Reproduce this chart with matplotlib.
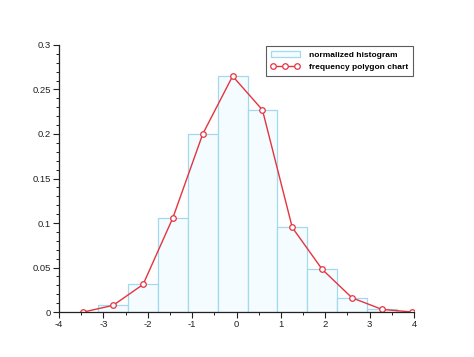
import matplotlib
matplotlib.use("Agg")
import matplotlib.pyplot as plt
from matplotlib.ticker import MultipleLocator, FuncFormatter

plt.rcParams["font.family"] = ["Liberation Sans", "DejaVu Sans"]
plt.rcParams["axes.unicode_minus"] = False

# histogram bins (left edges) and normalized heights
BIN_WIDTH = 0.6724
bin_left = [-3.114, -2.442, -1.769, -1.097, -0.424, 0.248, 0.920, 1.593, 2.265, 2.938]
hist_vals = [0.0075, 0.031, 0.106, 0.200, 0.265, 0.227, 0.095, 0.048, 0.016, 0.003]

# frequency polygon: bin centres plus a zero point on each side
poly_x = [-3.45, -2.78, -2.105, -1.433, -0.761, -0.088, 0.584, 1.256, 1.929, 2.601, 3.274, 3.95]
poly_y = [0.0, 0.0075, 0.031, 0.106, 0.200, 0.265, 0.227, 0.095, 0.048, 0.016, 0.003, 0.0]

fig = plt.figure(figsize=(4.74, 3.57), dpi=100, facecolor="white")
ax = fig.add_axes([0.1245, 0.126, 0.749, 0.748])

bars = ax.bar(bin_left, hist_vals, width=BIN_WIDTH, align="edge",
              color="#f5fcff", edgecolor="#a3d9ee", linewidth=0.9)
line, = ax.plot(poly_x, poly_y, color="#e4343f", linewidth=1.0, marker="o",
                markersize=4, markerfacecolor="white", markeredgecolor="#e4343f",
                markeredgewidth=0.9)

ax.set_xlim(-4, 4)
ax.set_ylim(0, 0.3)
ax.xaxis.set_major_locator(MultipleLocator(1))
ax.xaxis.set_minor_locator(MultipleLocator(0.5))
ax.yaxis.set_major_locator(MultipleLocator(0.05))
ax.yaxis.set_minor_locator(MultipleLocator(0.01))
ax.yaxis.set_major_formatter(FuncFormatter(lambda v, _: f"{v:g}"))
ax.xaxis.set_major_formatter(FuncFormatter(lambda v, _: f"{v:g}"))

ax.spines[["top", "right"]].set_visible(False)
for s in ("left", "bottom"):
    ax.spines[s].set_linewidth(0.9)
    ax.spines[s].set_color("#222222")
ax.tick_params(which="major", length=4, width=0.8, labelsize=6.8,
               colors="#222222", pad=2)
ax.tick_params(which="minor", length=2, width=0.7, colors="#222222")

leg = ax.legend([bars, line], ["normalized histogram", "frequency polygon chart"],
                loc="upper right", fontsize=6, frameon=True, fancybox=False,
                handlelength=3.5, numpoints=3, borderaxespad=0.1, borderpad=0.6,
                labelspacing=0.55, handletextpad=1.1)
for t in leg.get_texts():
    t.set_fontweight("bold")
leg.get_frame().set_edgecolor("#333333")
leg.get_frame().set_linewidth(0.8)

fig.savefig("out.png", dpi=100)
